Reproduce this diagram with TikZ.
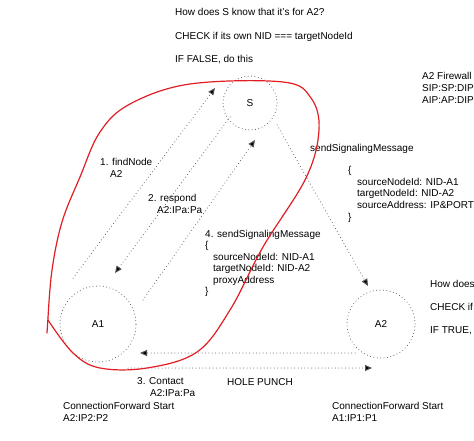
\documentclass[tikz,border=0pt]{standalone}
\usepackage{fontspec}
\setmainfont{Liberation Sans}
\usetikzlibrary{arrows.meta}
\definecolor{pen}{RGB}{225,30,35}
\definecolor{dots}{RGB}{80,80,80}
\tikzset{
    peer/.style={circle, draw=dots, line width=1pt, line cap=round,
        dash pattern=on 0pt off 3.4pt, inner sep=0pt, font=\fontsize{10}{12}\selectfont},
    msg/.style={draw=dots, line width=1pt, line cap=round,
        dash pattern=on 0pt off 3.4pt, -{Triangle[length=7pt,width=6pt,fill=black]}},
    note/.style={anchor=north west, align=left, inner sep=0pt,
        font=\fontsize{10}{12}\selectfont},
    scribble/.style={draw=pen, line width=1.2pt, line join=round, line cap=round},
}
\begin{document}
\begin{tikzpicture}[x=1pt, y=-1pt]
    \clip (0,0) rectangle (474,441);
    % peers
    \node[peer, minimum size=54pt] (S) at (250,103) {S};
    \node[peer, minimum size=76pt] (A1) at (98,324) {A1};
    \node[peer, minimum size=68pt] (A2) at (381,324) {A2};
    % message ends
    \coordinate (find0) at (73,278);
    \coordinate (find1) at (215,88);
    \coordinate (resp0) at (230,117);
    \coordinate (resp1) at (115,273);
    \coordinate (sig0) at (143,300);
    \coordinate (sig1) at (255,140);
    \coordinate (fwd0) at (277,125);
    \coordinate (fwd1) at (368,286);
    \coordinate (cont0) at (355,353);
    \coordinate (cont1) at (140,353);
    \coordinate (punch0) at (128,368);
    \coordinate (punch1) at (372,368);
    \draw[msg] (find0) -- (find1);
    \draw[msg] (resp0) -- (resp1);
    \draw[msg] (sig0) -- (sig1);
    \draw[msg] (fwd0) -- (fwd1);
    \draw[msg] (cont0) -- (cont1);
    \draw[msg] (punch0) -- (punch1);
    % texts
    \node[note] (q1) at (175,8) {How does S know that it's for A2?};
    \node[note] (q2) at (175,32) {CHECK if its own NID === targetNodeId};
    \node[note] (q3) at (175,55) {IF FALSE, do this};
    \node[note] (fw) at (422,72) {A2 Firewall\\SIP:SP:DIP:\\AIP:AP:DIP:};
    \node[note] (fwdlabel) at (310,144) {sendSignalingMessage};
    \node[note, font=\fontsize{10}{11.75}\selectfont] (fwdbody) at (348,166)
        {\{\\\hspace*{9pt}sourceNodeId: NID-A1\\\hspace*{9pt}targetNodeId: NID-A2\\
         \hspace*{9pt}sourceAddress: IP\&PORT\\\}};
    \node[note] (findlabel) at (100,158) {1. findNode\\\hspace*{10pt}A2};
    \node[note] (resplabel) at (148,194) {2. respond\\\hspace*{9pt}A2:IPa:Pa};
    \node[note, font=\fontsize{10}{11.4}\selectfont] (siglabel) at (205,230)
        {4. sendSignalingMessage\\\{\\\hspace*{8pt}sourceNodeId: NID-A1\\
         \hspace*{8pt}targetNodeId: NID-A2\\\hspace*{8pt}proxyAddress\\\}};
    \node[note] (contlabel) at (137,377) {3. Contact\\\hspace*{13pt}A2:IPa:Pa};
    \node[note] (punchlabel) at (227,378) {HOLE PUNCH};
    \node[note] (startA1) at (63,402) {ConnectionForward Start\\A2:IP2:P2};
    \node[note] (startA2) at (332,402) {ConnectionForward Start\\A1:IP1:P1};
    \node[note] (t1) at (430,280) {How does};
    \node[note] (t2) at (430,303) {CHECK if};
    \node[note] (t3) at (430,326) {IF TRUE,};
    % red scribble
    \draw[scribble] (47,333) -- (48,318);
    \draw[scribble] plot[smooth, tension=0.6] coordinates {
        (48,318) (52,270) (62,222) (80,177) (100,132) (130,104) (190,84)
        (283,82) (311,98) (319,130) (306,178) (263,247) (230,310) (197,352)
        (147,368) (100,368) (73,353) (48,320)};
\end{tikzpicture}
\end{document}
